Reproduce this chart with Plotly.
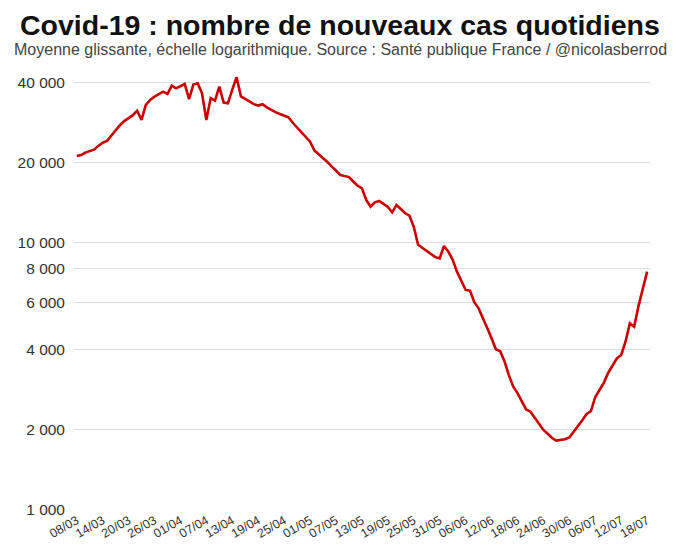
import plotly.graph_objects as go
import pandas as pd

start_date = "2021-03-08"
cases = [
    21180, 21330, 21800, 22050, 22350, 23100, 23750, 24100, 25300, 26500,
    27600, 28600, 29400, 30100, 31300, 28890, 32880, 34330, 35300, 36200,
    36870, 36140, 38820, 37960, 38700, 39400, 34600, 39200, 39640, 36370,
    28890, 34840, 34120, 38490, 33540, 33370, 37500, 41740, 35420, 34700,
    33900, 33100, 32700, 33080, 32200, 31500, 30900, 30400, 29900, 29570,
    28200, 27130, 26100, 25000, 23960, 22200, 21500, 20850, 20100, 19370,
    18670, 17970, 17800, 17650, 17000, 16400, 16030, 14490, 13680, 14200,
    14370, 14000, 13650, 13030, 13880, 13400, 12920, 12650, 11500, 9850,
    9600, 9300, 9050, 8850, 8760, 9740, 9280, 8650, 7810, 7200,
    6670, 6630, 6000, 5690, 5250, 4800, 4400, 4000, 3930, 3600,
    3200, 2900, 2740, 2550, 2380, 2335, 2220, 2120, 1995, 1930,
    1860, 1820, 1825, 1840, 1870, 1960, 2050, 2170, 2290, 2348,
    2650, 2820, 3000, 3267, 3500, 3700, 3806, 4268, 5000, 4859,
    5800, 6800, 7810,
]
dates = pd.date_range(start_date, periods=len(cases), freq="D")

y_tickvals = [1000, 2000, 4000, 6000, 8000, 10000, 20000, 40000]
y_ticktext = ["1 000", "2 000", "4 000", "6 000", "8 000", "10 000", "20 000", "40 000"]

x_tickvals = dates[::6]
x_ticktext = [d.strftime("%d/%m") for d in x_tickvals]

title = "Covid-19 : nombre de nouveaux cas quotidiens"
subtitle = "Moyenne glissante, échelle logarithmique. Source : Santé publique France / @nicolasberrod"

# the page body has an 8px margin, so the figure is drawn 8px smaller
OFF = 8
W, H = 680 - OFF, 552 - OFF
ML, MR, MT, MB = 74 - OFF, 30, 66 - OFF, 42
plot_w = W - ML - MR
plot_h = H - MT - MB


def px_to_paper(xpx, ypx):
    # xpx, ypx are screen coordinates
    return (xpx - OFF - ML) / plot_w, (H - MB - (ypx - OFF)) / plot_h


fig = go.Figure()
fig.add_trace(go.Scatter(
    x=dates, y=cases, mode="lines",
    line=dict(color="#cc0000", width=2.6),
    hoverinfo="x+y",
))

tx, ty = px_to_paper(340, OFF)
sx, sy = px_to_paper(340, 50)

fig.update_layout(
    width=W, height=H,
    paper_bgcolor="white", plot_bgcolor="white",
    margin=dict(l=ML, r=MR, t=MT, b=MB),
    showlegend=False,
    font=dict(family="Liberation Sans, Arial, sans-serif", color="#333333"),
    annotations=[
        dict(text="<b>" + title + "</b>", x=tx, y=ty, xref="paper", yref="paper",
             showarrow=False, font=dict(size=28.5, color="#111111"),
             xanchor="center", yanchor="top", borderpad=0),
        dict(text=subtitle, x=sx, y=sy, xref="paper", yref="paper",
             showarrow=False, font=dict(size=16, color="#444444"),
             xanchor="center", yanchor="middle"),
    ],
)

fig.update_xaxes(
    range=[pd.Timestamp("2021-03-07 09:00"), pd.Timestamp("2021-07-18 16:00")],
    tickvals=x_tickvals, ticktext=x_ticktext,
    tickangle=-30, tickfont=dict(size=12.5, color="#333333"),
    showgrid=False, showline=False, zeroline=False, ticks="",
    automargin=False,
)
fig.update_yaxes(
    type="log", range=[3, 4.6628],
    tickvals=y_tickvals, ticktext=y_ticktext,
    tickfont=dict(size=15.5, color="#333333"),
    showgrid=True, gridcolor="#dddddd", gridwidth=1,
    showline=False, zeroline=False, ticks="", ticklabelstandoff=8,
    automargin=False,
)

fig.write_html("out.html")
